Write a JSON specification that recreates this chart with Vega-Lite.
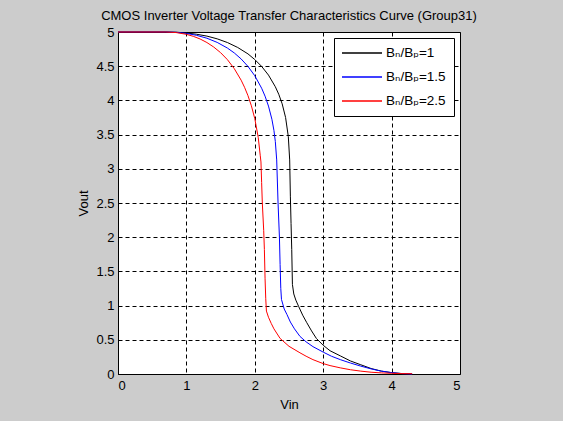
{
  "$schema": "https://vega.github.io/schema/vega-lite/v6.json",
  "autosize": {"type": "none"},
  "width": 342,
  "height": 342,
  "padding": {"left": 118, "top": 32, "right": 103, "bottom": 47},
  "background": "#cccccc",
  "title": {
    "text": "CMOS Inverter Voltage Transfer Characteristics Curve (Group31)",
    "font": "Liberation Sans, DejaVu Sans",
    "fontSize": 13,
    "fontWeight": "normal",
    "color": "black",
    "offset": 3
  },
  "data": {
    "values": [
      {"series": "Bₙ/Bₚ=1", "Vin": 0, "Vout": 5},
      {"series": "Bₙ/Bₚ=1", "Vin": 0.7, "Vout": 5},
      {"series": "Bₙ/Bₚ=1", "Vin": 0.85, "Vout": 4.997},
      {"series": "Bₙ/Bₚ=1", "Vin": 1.0, "Vout": 4.986},
      {"series": "Bₙ/Bₚ=1", "Vin": 1.15, "Vout": 4.967},
      {"series": "Bₙ/Bₚ=1", "Vin": 1.3, "Vout": 4.94},
      {"series": "Bₙ/Bₚ=1", "Vin": 1.45, "Vout": 4.9},
      {"series": "Bₙ/Bₚ=1", "Vin": 1.6, "Vout": 4.846},
      {"series": "Bₙ/Bₚ=1", "Vin": 1.75, "Vout": 4.774},
      {"series": "Bₙ/Bₚ=1", "Vin": 1.9, "Vout": 4.68},
      {"series": "Bₙ/Bₚ=1", "Vin": 2.0, "Vout": 4.597},
      {"series": "Bₙ/Bₚ=1", "Vin": 2.1, "Vout": 4.497},
      {"series": "Bₙ/Bₚ=1", "Vin": 2.2, "Vout": 4.37},
      {"series": "Bₙ/Bₚ=1", "Vin": 2.3, "Vout": 4.2},
      {"series": "Bₙ/Bₚ=1", "Vin": 2.35, "Vout": 4.09},
      {"series": "Bₙ/Bₚ=1", "Vin": 2.4, "Vout": 3.95},
      {"series": "Bₙ/Bₚ=1", "Vin": 2.45, "Vout": 3.75},
      {"series": "Bₙ/Bₚ=1", "Vin": 2.49, "Vout": 3.47},
      {"series": "Bₙ/Bₚ=1", "Vin": 2.51, "Vout": 3.13},
      {"series": "Bₙ/Bₚ=1", "Vin": 2.52, "Vout": 2.6},
      {"series": "Bₙ/Bₚ=1", "Vin": 2.53, "Vout": 2.2},
      {"series": "Bₙ/Bₚ=1", "Vin": 2.54, "Vout": 1.82},
      {"series": "Bₙ/Bₚ=1", "Vin": 2.55, "Vout": 1.31},
      {"series": "Bₙ/Bₚ=1", "Vin": 2.57, "Vout": 1.17},
      {"series": "Bₙ/Bₚ=1", "Vin": 2.6, "Vout": 1.08},
      {"series": "Bₙ/Bₚ=1", "Vin": 2.64, "Vout": 0.99},
      {"series": "Bₙ/Bₚ=1", "Vin": 2.7, "Vout": 0.86},
      {"series": "Bₙ/Bₚ=1", "Vin": 2.76, "Vout": 0.75},
      {"series": "Bₙ/Bₚ=1", "Vin": 2.83, "Vout": 0.63},
      {"series": "Bₙ/Bₚ=1", "Vin": 2.9, "Vout": 0.52},
      {"series": "Bₙ/Bₚ=1", "Vin": 3.0, "Vout": 0.42},
      {"series": "Bₙ/Bₚ=1", "Vin": 3.1, "Vout": 0.34},
      {"series": "Bₙ/Bₚ=1", "Vin": 3.25, "Vout": 0.265},
      {"series": "Bₙ/Bₚ=1", "Vin": 3.4, "Vout": 0.19},
      {"series": "Bₙ/Bₚ=1", "Vin": 3.55, "Vout": 0.135},
      {"series": "Bₙ/Bₚ=1", "Vin": 3.7, "Vout": 0.08},
      {"series": "Bₙ/Bₚ=1", "Vin": 3.85, "Vout": 0.042},
      {"series": "Bₙ/Bₚ=1", "Vin": 4.0, "Vout": 0.02},
      {"series": "Bₙ/Bₚ=1", "Vin": 4.15, "Vout": 0.006},
      {"series": "Bₙ/Bₚ=1", "Vin": 4.3, "Vout": 0},

      {"series": "Bₙ/Bₚ=1.5", "Vin": 0, "Vout": 5},
      {"series": "Bₙ/Bₚ=1.5", "Vin": 0.7, "Vout": 5},
      {"series": "Bₙ/Bₚ=1.5", "Vin": 0.85, "Vout": 4.995},
      {"series": "Bₙ/Bₚ=1.5", "Vin": 1.0, "Vout": 4.98},
      {"series": "Bₙ/Bₚ=1.5", "Vin": 1.15, "Vout": 4.951},
      {"series": "Bₙ/Bₚ=1.5", "Vin": 1.3, "Vout": 4.909},
      {"series": "Bₙ/Bₚ=1.5", "Vin": 1.45, "Vout": 4.848},
      {"series": "Bₙ/Bₚ=1.5", "Vin": 1.6, "Vout": 4.765},
      {"series": "Bₙ/Bₚ=1.5", "Vin": 1.7, "Vout": 4.694},
      {"series": "Bₙ/Bₚ=1.5", "Vin": 1.8, "Vout": 4.606},
      {"series": "Bₙ/Bₚ=1.5", "Vin": 1.9, "Vout": 4.497},
      {"series": "Bₙ/Bₚ=1.5", "Vin": 2.0, "Vout": 4.36},
      {"series": "Bₙ/Bₚ=1.5", "Vin": 2.1, "Vout": 4.178},
      {"series": "Bₙ/Bₚ=1.5", "Vin": 2.15, "Vout": 4.062},
      {"series": "Bₙ/Bₚ=1.5", "Vin": 2.2, "Vout": 3.917},
      {"series": "Bₙ/Bₚ=1.5", "Vin": 2.25, "Vout": 3.724},
      {"series": "Bₙ/Bₚ=1.5", "Vin": 2.28, "Vout": 3.56},
      {"series": "Bₙ/Bₚ=1.5", "Vin": 2.3, "Vout": 3.4},
      {"series": "Bₙ/Bₚ=1.5", "Vin": 2.32, "Vout": 3.13},
      {"series": "Bₙ/Bₚ=1.5", "Vin": 2.34, "Vout": 2.5},
      {"series": "Bₙ/Bₚ=1.5", "Vin": 2.36, "Vout": 2.0},
      {"series": "Bₙ/Bₚ=1.5", "Vin": 2.37, "Vout": 1.6},
      {"series": "Bₙ/Bₚ=1.5", "Vin": 2.38, "Vout": 1.25},
      {"series": "Bₙ/Bₚ=1.5", "Vin": 2.39, "Vout": 1.09},
      {"series": "Bₙ/Bₚ=1.5", "Vin": 2.43, "Vout": 0.95},
      {"series": "Bₙ/Bₚ=1.5", "Vin": 2.47, "Vout": 0.87},
      {"series": "Bₙ/Bₚ=1.5", "Vin": 2.52, "Vout": 0.76},
      {"series": "Bₙ/Bₚ=1.5", "Vin": 2.58, "Vout": 0.66},
      {"series": "Bₙ/Bₚ=1.5", "Vin": 2.66, "Vout": 0.55},
      {"series": "Bₙ/Bₚ=1.5", "Vin": 2.75, "Vout": 0.47},
      {"series": "Bₙ/Bₚ=1.5", "Vin": 2.85, "Vout": 0.4},
      {"series": "Bₙ/Bₚ=1.5", "Vin": 3.0, "Vout": 0.32},
      {"series": "Bₙ/Bₚ=1.5", "Vin": 3.12, "Vout": 0.26},
      {"series": "Bₙ/Bₚ=1.5", "Vin": 3.25, "Vout": 0.21},
      {"series": "Bₙ/Bₚ=1.5", "Vin": 3.4, "Vout": 0.16},
      {"series": "Bₙ/Bₚ=1.5", "Vin": 3.55, "Vout": 0.115},
      {"series": "Bₙ/Bₚ=1.5", "Vin": 3.7, "Vout": 0.075},
      {"series": "Bₙ/Bₚ=1.5", "Vin": 3.85, "Vout": 0.042},
      {"series": "Bₙ/Bₚ=1.5", "Vin": 4.0, "Vout": 0.02},
      {"series": "Bₙ/Bₚ=1.5", "Vin": 4.15, "Vout": 0.006},
      {"series": "Bₙ/Bₚ=1.5", "Vin": 4.3, "Vout": 0},

      {"series": "Bₙ/Bₚ=2.5", "Vin": 0, "Vout": 5},
      {"series": "Bₙ/Bₚ=2.5", "Vin": 0.7, "Vout": 5},
      {"series": "Bₙ/Bₚ=2.5", "Vin": 0.85, "Vout": 4.992},
      {"series": "Bₙ/Bₚ=2.5", "Vin": 1.0, "Vout": 4.966},
      {"series": "Bₙ/Bₚ=2.5", "Vin": 1.1, "Vout": 4.937},
      {"series": "Bₙ/Bₚ=2.5", "Vin": 1.2, "Vout": 4.898},
      {"series": "Bₙ/Bₚ=2.5", "Vin": 1.3, "Vout": 4.846},
      {"series": "Bₙ/Bₚ=2.5", "Vin": 1.4, "Vout": 4.78},
      {"series": "Bₙ/Bₚ=2.5", "Vin": 1.5, "Vout": 4.698},
      {"series": "Bₙ/Bₚ=2.5", "Vin": 1.6, "Vout": 4.595},
      {"series": "Bₙ/Bₚ=2.5", "Vin": 1.7, "Vout": 4.464},
      {"series": "Bₙ/Bₚ=2.5", "Vin": 1.8, "Vout": 4.296},
      {"series": "Bₙ/Bₚ=2.5", "Vin": 1.85, "Vout": 4.192},
      {"series": "Bₙ/Bₚ=2.5", "Vin": 1.9, "Vout": 4.07},
      {"series": "Bₙ/Bₚ=2.5", "Vin": 1.95, "Vout": 3.921},
      {"series": "Bₙ/Bₚ=2.5", "Vin": 2.0, "Vout": 3.732},
      {"series": "Bₙ/Bₚ=2.5", "Vin": 2.05, "Vout": 3.46},
      {"series": "Bₙ/Bₚ=2.5", "Vin": 2.08, "Vout": 3.19},
      {"series": "Bₙ/Bₚ=2.5", "Vin": 2.09, "Vout": 3.1},
      {"series": "Bₙ/Bₚ=2.5", "Vin": 2.1, "Vout": 2.8},
      {"series": "Bₙ/Bₚ=2.5", "Vin": 2.11, "Vout": 2.5},
      {"series": "Bₙ/Bₚ=2.5", "Vin": 2.13, "Vout": 2.1},
      {"series": "Bₙ/Bₚ=2.5", "Vin": 2.14, "Vout": 1.82},
      {"series": "Bₙ/Bₚ=2.5", "Vin": 2.15, "Vout": 1.4},
      {"series": "Bₙ/Bₚ=2.5", "Vin": 2.16, "Vout": 1.1},
      {"series": "Bₙ/Bₚ=2.5", "Vin": 2.17, "Vout": 0.92},
      {"series": "Bₙ/Bₚ=2.5", "Vin": 2.2, "Vout": 0.83},
      {"series": "Bₙ/Bₚ=2.5", "Vin": 2.24, "Vout": 0.74},
      {"series": "Bₙ/Bₚ=2.5", "Vin": 2.28, "Vout": 0.66},
      {"series": "Bₙ/Bₚ=2.5", "Vin": 2.37, "Vout": 0.52},
      {"series": "Bₙ/Bₚ=2.5", "Vin": 2.5, "Vout": 0.405},
      {"series": "Bₙ/Bₚ=2.5", "Vin": 2.66, "Vout": 0.31},
      {"series": "Bₙ/Bₚ=2.5", "Vin": 2.75, "Vout": 0.26},
      {"series": "Bₙ/Bₚ=2.5", "Vin": 2.85, "Vout": 0.21},
      {"series": "Bₙ/Bₚ=2.5", "Vin": 3.0, "Vout": 0.152},
      {"series": "Bₙ/Bₚ=2.5", "Vin": 3.1, "Vout": 0.123},
      {"series": "Bₙ/Bₚ=2.5", "Vin": 3.25, "Vout": 0.09},
      {"series": "Bₙ/Bₚ=2.5", "Vin": 3.4, "Vout": 0.062},
      {"series": "Bₙ/Bₚ=2.5", "Vin": 3.55, "Vout": 0.042},
      {"series": "Bₙ/Bₚ=2.5", "Vin": 3.7, "Vout": 0.026},
      {"series": "Bₙ/Bₚ=2.5", "Vin": 3.85, "Vout": 0.016},
      {"series": "Bₙ/Bₚ=2.5", "Vin": 4.0, "Vout": 0.01},
      {"series": "Bₙ/Bₚ=2.5", "Vin": 4.15, "Vout": 0.006},
      {"series": "Bₙ/Bₚ=2.5", "Vin": 4.3, "Vout": 0.004}
    ]
  },
  "mark": {"type": "line", "strokeWidth": 1},
  "encoding": {
    "x": {
      "field": "Vin",
      "type": "quantitative",
      "scale": {"domain": [0, 5], "nice": false, "zero": false},
      "axis": {
        "title": "Vin",
        "values": [0, 1, 2, 3, 4, 5],
        "format": "~g",
        "labelPadding": 5,
        "titlePadding": 6
      }
    },
    "y": {
      "field": "Vout",
      "type": "quantitative",
      "scale": {"domain": [0, 5], "nice": false, "zero": false},
      "axis": {
        "title": "Vout",
        "values": [0, 0.5, 1, 1.5, 2, 2.5, 3, 3.5, 4, 4.5, 5],
        "format": "~g",
        "labelPadding": 4,
        "titlePadding": 5
      }
    },
    "color": {
      "field": "series",
      "type": "nominal",
      "sort": null,
      "scale": {
        "domain": ["Bₙ/Bₚ=1", "Bₙ/Bₚ=1.5", "Bₙ/Bₚ=2.5"],
        "range": ["#000000", "#0000ff", "#ff0000"]
      },
      "legend": {
        "title": null,
        "orient": "top-right",
        "offset": 6,
        "fillColor": "white",
        "strokeColor": "black",
        "padding": 8,
        "rowPadding": 10,
        "symbolType": "M-3.333,0H3.333",
        "symbolSize": 144,
        "symbolOffset": 13,
        "symbolStrokeWidth": 1.5,
        "labelFont": "Liberation Sans, DejaVu Sans",
        "labelFontSize": 13.5,
        "labelColor": "black",
        "labelOffset": 17
      }
    }
  },
  "config": {
    "view": {"stroke": "black", "strokeWidth": 1, "fill": "white"},
    "axis": {
      "domainColor": "black",
      "domainWidth": 1,
      "ticks": false,
      "grid": true,
      "gridColor": "black",
      "gridDash": [4, 3],
      "gridWidth": 1,
      "gridOpacity": 1,
      "labelFont": "Liberation Sans, DejaVu Sans",
      "labelFontSize": 13,
      "labelColor": "black",
      "titleFont": "Liberation Sans, DejaVu Sans",
      "titleFontSize": 13,
      "titleFontWeight": "normal",
      "titleColor": "black"
    }
  }
}
